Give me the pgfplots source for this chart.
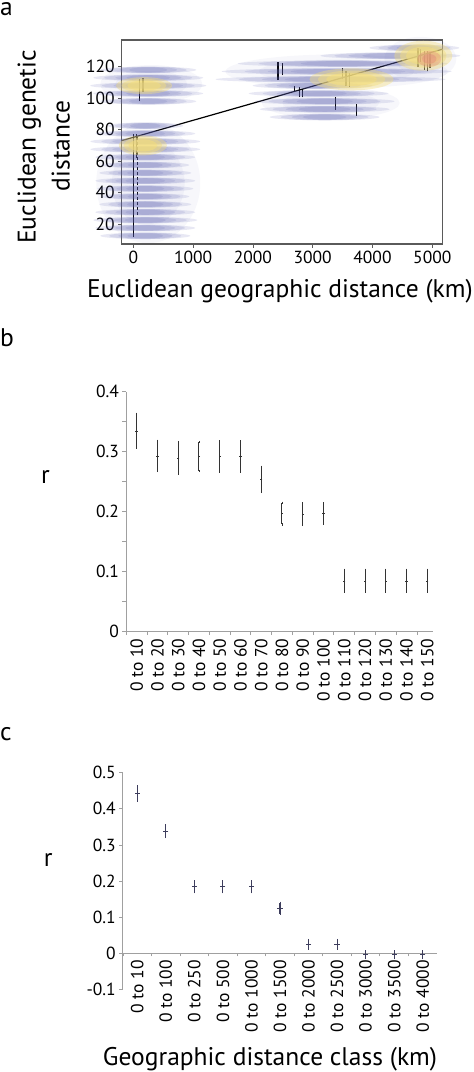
\documentclass[border=0pt]{standalone}
\usepackage{fontspec}
\setmainfont{PT Sans}
\usepackage{pgfplots}
\usepackage{pgfplotstable}
\pgfplotsset{compat=1.18}
\definecolor{blobblue}{HTML}{5A5FAE}
\definecolor{blobyellow}{HTML}{F4DE7C}
\definecolor{blobred}{HTML}{E07878}
\definecolor{boxgrey}{HTML}{5A5A5A}
\definecolor{axgrey}{HTML}{A0A0A0}
\definecolor{barcol}{HTML}{333333}
\definecolor{ccol}{HTML}{3D3D5C}
\newcommand\tickfont{\fontsize{17.5}{20}\selectfont}
\newcommand\labfont{\fontsize{25.5}{28}\selectfont}
\pgfdeclareplotmark{blob}{\pgfpathellipse{\pgfpointorigin}{\pgfpoint{\rx pt}{0pt}}{\pgfpoint{0pt}{\ry pt}}\pgfusepathqfill}
% table, colour, x-scale, opacity, y-scale
\newcommand\blobs[5]{%
\addplot[scatter, only marks, mark=blob, forget plot,
  scatter/use mapped color={draw=none, fill=#2, fill opacity=#4},
  visualization depends on={#3*\thisrow{rx} \as \rx},
  visualization depends on={#5*\thisrow{ry} \as \ry}]
  table[x=x, y=y] {#1};}
\pgfplotstableread{
x y rx ry
300 109 51 19
250 46 52 60
3400 117 111 17
3300 97 69 16
4800 125 36 22
}\blueblobs
\pgfplotstableread{
x y rx ry
250 98 48 3.2
250 103 55 3.2
250 108 58 3.2
250 113 55 3.2
250 118 48 3.2
200 12.5 45 3.2
200 17.5 50 3.2
200 22.5 52 3.2
200 27.5 50 3.2
200 32.5 46 3.2
200 37.5 44 3.2
200 42.5 48 3.2
200 47.5 50 3.2
200 52.5 46 3.2
200 57.5 44 3.2
200 62.5 50 3.2
200 67.5 55 3.2
200 72.5 55 3.2
200 77.5 50 3.2
200 82.5 38 3.2
3300 112 115 3.2
3400 117 115 3.2
3500 122 105 3.2
4300 127 70 3.2
4700 132 45 3.2
3200 88 55 3.2
3200 93 65 3.2
3200 98 70 3.2
3100 103 70 3.2
3000 108 60 3.2
}\bluerows
\pgfplotstableread{
x y rx ry
180 108 28 8.5
160 70 24 10
3650 112 42 11
4850 127 29 15
}\yellowblobs
\pgfplotstableread{
x y rx ry
4950 125 12 8
}\redblobs
\pgfplotstableread{
x y e
0 0.335 0.028
1 0.293 0.025
2 0.290 0.026
3 0.292 0.024
4 0.292 0.025
5 0.292 0.025
6 0.254 0.021
7 0.197 0.018
8 0.196 0.018
9 0.197 0.017
10 0.085 0.018
11 0.085 0.018
12 0.085 0.018
13 0.085 0.018
14 0.085 0.018
}\tabb
\pgfplotstableread{
x y e
0 0.443 0.020
1 0.338 0.016
2 0.184 0.015
3 0.184 0.015
4 0.184 0.015
5 0.125 0.015
6 0.025 0.012
7 0.025 0.012
8 -0.004 0.010
9 -0.004 0.010
10 -0.004 0.010
}\tabc
\begin{document}
\begin{tikzpicture}
\useasboundingbox (0,0) rectangle (474pt,-1072pt);
% ---------------- panel a
\begin{axis}[
  at={(121.7pt,-244pt)}, anchor=south west,
  scale only axis, width=321pt, height=204pt,
  xmin=-194, xmax=5174, ymin=7.3, ymax=137,
  axis on top, scaled ticks=false,
  xtick={0,1000,2000,3000,4000,5000},
  xticklabels={0,1000,2000,3000,4000,5000},
  ytick={20,40,60,80,100,120},
  yticklabels={20,40,60,80,100,120},
  xtick pos=bottom, ytick pos=left,
  tick align=outside, major tick length=3.5pt,
  tick style={draw=boxgrey, line width=0.8pt},
  axis line style={draw=boxgrey, line width=1.1pt},
  tick label style={font=\tickfont, text=black},
]
\blobs{\blueblobs}{blobblue}{1.0}{0.05}{1.0}
\blobs{\blueblobs}{blobblue}{0.7}{0.05}{0.7}
\blobs{\bluerows}{blobblue}{1.0}{0.14}{1.0}
\blobs{\bluerows}{blobblue}{0.8}{0.14}{1.0}
\blobs{\bluerows}{blobblue}{0.6}{0.15}{0.9}
\blobs{\bluerows}{blobblue}{0.4}{0.15}{0.8}
\blobs{\yellowblobs}{blobyellow}{1.0}{0.4}{1.0}
\blobs{\yellowblobs}{blobyellow}{0.8}{0.45}{0.8}
\blobs{\yellowblobs}{blobyellow}{0.6}{0.55}{0.6}
\blobs{\redblobs}{blobred}{1.0}{0.3}{1.0}
\blobs{\redblobs}{blobred}{0.6}{0.35}{0.6}
\addplot[black, line width=1.2pt, mark=none] coordinates {(-194,73.0) (5174,131.2)};
\addplot[black, line width=1.4pt, mark=none, unbounded coords=jump, forget plot] table {
x y
0 12
0 77
nan nan
55 62
55 77
nan nan
100 98
100 112
nan nan
165 104
165 113
nan nan
2420 111.5
2420 123
nan nan
2490 114.7
2490 122.5
nan nan
2700 104
2700 108
nan nan
2780 101
2780 107
nan nan
2830 100.5
2830 106
nan nan
3378 92.5
3378 101
nan nan
3730 89
3730 96
nan nan
3500 112
3500 119
nan nan
3560 108
3560 117
nan nan
3620 107
3620 116
nan nan
4760 120
4760 132
nan nan
4800 123
4800 131
nan nan
4870 118
4870 130
nan nan
4920 117
4920 130
nan nan
4960 119
4960 129
};
\addplot[black, line width=0.9pt, dash pattern=on 3pt off 2pt, mark=none] coordinates {(75,26) (75,76)};
\end{axis}
% ---------------- panel b
\begin{axis}[
  at={(126pt,-631.7pt)}, anchor=south west,
  scale only axis, width=307.3pt, height=240pt,
  xmin=-0.515, xmax=14.29, ymin=0, ymax=0.4,
  axis lines=left, axis line style={-, draw=axgrey, line width=0.9pt},
  xtick={0,...,14},
  xticklabels={0 to 10,0 to 20,0 to 30,0 to 40,0 to 50,0 to 60,0 to 70,0 to 80,0 to 90,0 to 100,0 to 110,0 to 120,0 to 130,0 to 140,0 to 150},
  major x tick style={draw=none},
  minor xtick={-0.5,0.5,1.5,2.5,3.5,4.5,5.5,6.5,7.5,8.5,9.5,10.5,11.5,12.5,13.5},
  ytick={0,0.1,0.2,0.3,0.4}, yticklabels={0,0.1,0.2,0.3,0.4},
  minor ytick={0.05,0.15,0.25,0.35},
  tick align=outside, major tick length=3.5pt, minor tick length=3.5pt,
  tick style={draw=axgrey, line width=0.8pt},
  tick label style={font=\tickfont, text=black},
  xticklabel style={rotate=90, anchor=east},
]
\addplot[only marks, mark=-, mark size=1.2pt, color=barcol,
  error bars/.cd, y dir=both, y explicit,
  error bar style={line width=1pt, color=barcol},
  error mark=-, error mark options={mark size=1.2pt, line width=0.8pt, color=barcol}]
  table[x=x, y=y, y error=e] {\tabb};
\end{axis}
% ---------------- panel c
\begin{axis}[
  at={(122.7pt,-989.4pt)}, anchor=south west,
  scale only axis, width=314pt, height=216.7pt,
  xmin=-0.51, xmax=10.49, ymin=-0.1, ymax=0.5,
  axis x line=middle, axis y line=left,
  axis line style={-, draw=axgrey, line width=0.9pt},
  xtick={0,...,10},
  xticklabels={0 to 10,0 to 100,0 to 250,0 to 500,0 to 1000,0 to 1500,0 to 2000,0 to 2500,0 to 3000,0 to 3500,0 to 4000},
  major x tick style={draw=none},
  minor xtick={-0.5,0.5,1.5,2.5,3.5,4.5,5.5,6.5,7.5,8.5,9.5},
  ytick={-0.1,0,0.1,0.2,0.3,0.4,0.5}, yticklabels={-0.1,0,0.1,0.2,0.3,0.4,0.5},
  tick align=outside, major tick length=3.5pt, minor tick length=3pt,
  tick style={draw=axgrey, line width=0.8pt},
  tick label style={font=\tickfont, text=black},
  xticklabel style={rotate=90, anchor=east},
]
\addplot[only marks, mark=-, mark size=2.6pt, color=ccol, mark options={line width=1pt},
  error bars/.cd, y dir=both, y explicit,
  error bar style={line width=1.1pt, color=ccol},
  error mark=-, error mark options={mark size=1pt, line width=0.8pt, color=ccol}]
  table[x=x, y=y, y error=e] {\tabc};
\end{axis}
% ---------------- labels
\node[anchor=base west, inner sep=0, font=\labfont] at (0pt,-15pt) {a};
\node[anchor=base west, inner sep=0, font=\labfont] at (0pt,-346.7pt) {b};
\node[anchor=base west, inner sep=0, font=\labfont] at (0pt,-740pt) {c};
\node[rotate=90, anchor=base, inner sep=0, font=\labfont] at (35.5pt,-147pt) {Euclidean genetic};
\node[rotate=90, anchor=base, inner sep=0, font=\labfont] at (69.5pt,-146pt) {distance};
\node[anchor=base, inner sep=0, font=\labfont] at (280pt,-297pt) {Euclidean geographic distance (km)};
\node[anchor=base, inner sep=0, font=\labfont] at (45.5pt,-483.3pt) {r};
\node[anchor=base, inner sep=0, font=\labfont] at (48.3pt,-866.7pt) {r};
\node[anchor=base, inner sep=0, font=\labfont] at (270pt,-1065.5pt) {Geographic distance class (km)};
\end{tikzpicture}
\end{document}
